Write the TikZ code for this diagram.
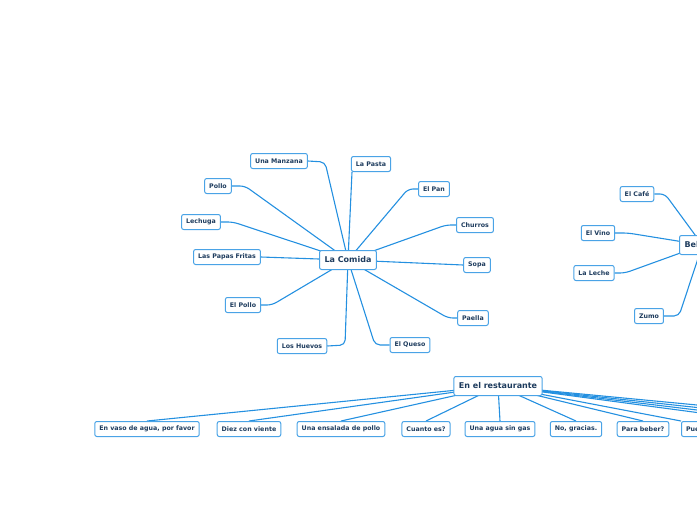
\documentclass[tikz,border=0pt]{standalone}
\usepackage{fontspec}
\setmainfont{DejaVu Sans}
\usetikzlibrary{backgrounds,calc}
\definecolor{ln}{HTML}{2490E0}
\definecolor{bd}{HTML}{4AA3E6}
\definecolor{tx}{HTML}{1E3C5E}
\tikzset{
 leaf/.style={draw=bd,line width=1pt,rounded corners=2pt,fill=white,text=tx,font=\bfseries\fontsize{6.3}{7}\selectfont,inner xsep=4.5pt,minimum height=15pt},
 hub/.style={leaf,font=\bfseries\fontsize{8}{9}\selectfont,minimum height=19pt,inner xsep=5pt},
 con/.style={draw=ln,line width=1.1pt,rounded corners=5pt}
}
\begin{document}
\begin{tikzpicture}[x=1pt,y=-1pt]
\useasboundingbox (0,0) rectangle (697,520);
\clip (0,0) rectangle (697,520);
\node[hub] (com) at (348,260) {La Comida};
\node[leaf] (man) at (279,161) {Una Manzana};
\node[leaf] (pas) at (371,164) {La Pasta};
\node[leaf] (pan) at (434,189) {El Pan};
\node[leaf] (pol) at (218,186) {Pollo};
\node[leaf] (lec) at (201,222) {Lechuga};
\node[leaf] (chu) at (475,225) {Churros};
\node[leaf] (pap) at (227,257) {Las Papas Fritas};
\node[leaf] (sop) at (477,265) {Sopa};
\node[leaf] (epo) at (243,305) {El Pollo};
\node[leaf] (pae) at (473,318) {Paella};
\node[leaf] (hue) at (302,346) {Los Huevos};
\node[leaf] (que) at (410,345) {El Queso};
\node[hub,anchor=west] (beb) at (679,245) {Bebidas};
\node[leaf] (caf) at (637,194) {El Café};
\node[leaf] (vin) at (598,233) {El Vino};
\node[leaf] (lle) at (594,273) {La Leche};
\node[leaf] (zum) at (649,316) {Zumo};
\node[hub] (res) at (498,386) {En el restaurante};
\node[leaf] (b1) at (147,429) {En vaso de agua, por favor};
\node[leaf] (b2) at (249,429) {Diez con viente};
\node[leaf] (b3) at (341,429) {Una ensalada de pollo};
\node[leaf] (b4) at (426,429) {Cuanto es?};
\node[leaf] (b5) at (500,429) {Una agua sin gas};
\node[leaf] (b6) at (576,429) {No, gracias.};
\node[leaf] (b7) at (643,429) {Para beber?};
\node[leaf,anchor=west] (b8) at (681,429) {Puedo};
\coordinate (r1) at (697,405);
\coordinate (r2) at (697,407.5);
\coordinate (r3) at (697,410);
\coordinate (r4) at (697,412.5);
\begin{scope}[on background layer]
\draw[con] (com.center) -- (325,162) -- (man.east);
\draw[con] (com.center) -- (pas.south -| 352,0);
\draw[con] (com.center) -- (408,189) -- (pan.west);
\draw[con] (com.center) -- (245,186) -- (pol.east);
\draw[con] (com.center) -- (233,222) -- (lec.west -| lec.east);
\draw[con] (com.center) -- (446,225) -- (chu.west);
\draw[con] (com.center) -- (pap.east);
\draw[con] (com.center) -- (sop.west);
\draw[con] (com.center) -- (272,305) -- (epo.east);
\draw[con] (com.center) -- (448,318) -- (pae.west);
\draw[con] (com.center) -- (345,345) -- (hue.east);
\draw[con] (com.center) -- (375,345) -- (que.west);
\draw[con] (beb.center) -- (665,194) -- (caf.east);
\draw[con] (beb.center) -- (628,233) -- (vin.east);
\draw[con] (beb.center) -- (625,273) -- (lle.east);
\draw[con] (beb.center) -- (679,316) -- (zum.east);
\foreach \n in {b1,b2,b3,b4,b5,b6,b7}
  \draw[con] (res.center) -- (\n.north);
\draw[con] (res.center) -- (b8.north west);
\foreach \n in {r1,r2,r3,r4}
  \draw[con] (res.center) -- (\n);
\end{scope}
\end{tikzpicture}
\end{document}
